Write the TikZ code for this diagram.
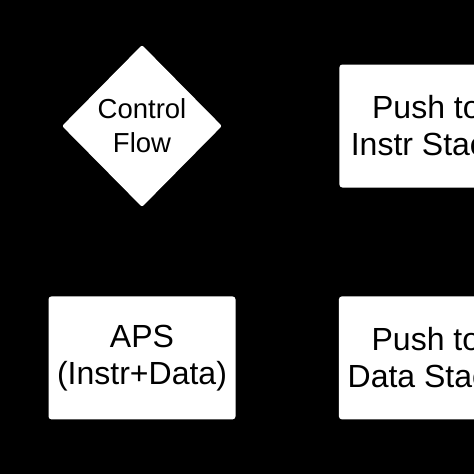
\documentclass[tikz,border=0pt]{standalone}
\usepackage{fontspec}
\setmainfont{Liberation Sans}
\usetikzlibrary{shapes.geometric, positioning}
\tikzset{
  decision/.style={diamond, fill=white, rounded corners=2pt, inner sep=0pt,
                   minimum width=160pt, minimum height=162pt, align=center,
                   text=black, font=\fontsize{27.5}{34}\selectfont},
  stage/.style={rectangle, fill=white, rounded corners=3pt, inner sep=0pt,
                minimum width=187pt, minimum height=123pt, align=center,
                text=black, font=\fontsize{32}{37}\selectfont},
}

\begin{document}
\begin{tikzpicture}
  \fill[black] (0pt,0pt) rectangle (474pt,-474pt);
  \useasboundingbox (0pt,0pt) rectangle (474pt,-474pt);

  \node[decision] (flow) at (142pt,-126pt) {Control\\Flow};
  \node[stage, below=89pt of flow] (aps) {APS\\(Instr+Data)};
  \node[stage, minimum width=174pt, right=117pt of flow] (instr) {Push to\\Instr Stack};
  \node[stage, minimum width=174pt, right=103pt of aps] (data) {Push to\\Data Stack};
\end{tikzpicture}
\end{document}
